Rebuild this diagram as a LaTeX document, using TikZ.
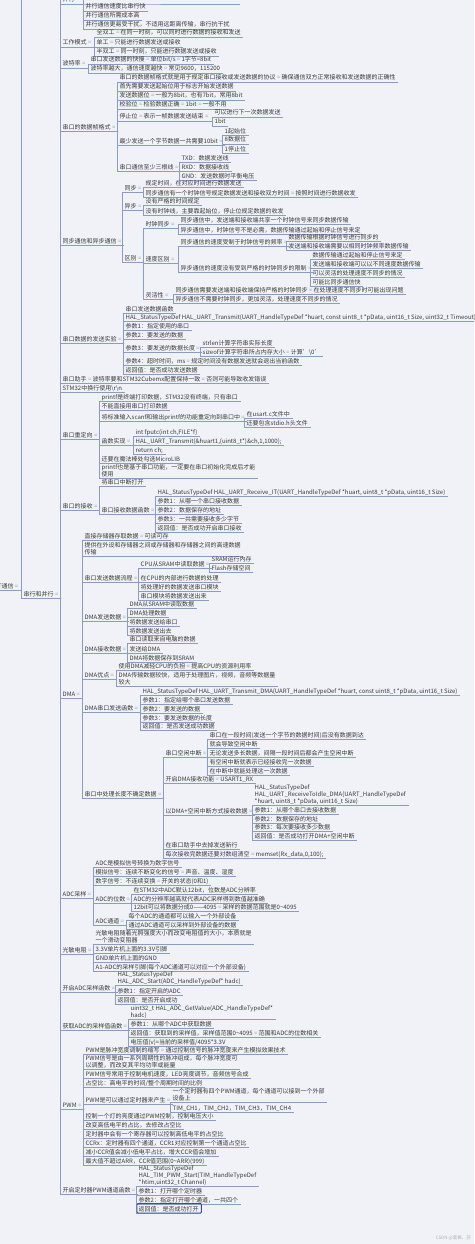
\documentclass[tikz,border=0pt]{standalone}
\usepackage{fontspec}
\setmainfont{Noto Sans CJK SC}
\definecolor{bgc}{HTML}{F0F2F7}
\definecolor{lnc}{HTML}{8A9CC0}
\definecolor{txc}{HTML}{3A3A3A}
\definecolor{eqc}{HTML}{8A9CC0}
\definecolor{boxc}{HTML}{3B4F8F}
\newcommand{\mmfont}{\fontsize{6}{7}\selectfont}
\newcommand{\mmeq}{{\color{eqc}=}}
\newcommand{\mmn}[4]{\node[mm] (#1) at (#2,#3) {#4}; \draw[ln] (#1.south west) -- (#1.south east);}
\newcommand{\mml}[2]{\foreach \mmc in {#2} {\draw[ln] (#1.south east) -| (\mmc.south west);}}
\newcommand{\tl}{\textasciitilde}
\begin{document}
\begin{tikzpicture}[x=1pt,y=-1pt,
  ln/.style={draw=lnc,line width=0.7pt},
  mm/.style={anchor=south west,inner xsep=2.5pt,inner ysep=0.8pt,text depth=1pt,align=left,font=\mmfont,text=txc}]
\fill[bgc] (0,0) rectangle (474,1244);
\useasboundingbox (0,0) rectangle (474,1244);
\clip (0,0) rectangle (474,1244);

% root
\node[mm,anchor=south east] (root) at (21,590) {UART通信 \mmeq};
\draw[ln] (root.south west) -- (root.south east);
\mmn{cb}{21}{598}{串行和并行 \mmeq}
\coordinate (rtop) at (21,-5);
\draw[ln] (root.south east) -| (rtop);
\mml{root}{cb}

% level 2
\mmn{bx}{60}{4}{并行 \mmeq}
\mmn{gz}{60}{47}{工作模式 \mmeq}
\mmn{bt}{60}{68}{波特率 \mmeq}
\mmn{zg}{60}{131}{串口的数据帧格式 \mmeq}
\mmn{tb}{60}{245}{同步通信和异步通信 \mmeq}
\mmn{fs}{60}{343}{串口数据的发送实验 \mmeq}
\mmn{zs}{60}{383}{串口助手 \mmeq{} 波特率要和STM32Cubemx配置保持一致 \mmeq{} 否则可能导致收发错误}
\mmn{hh}{60}{392}{STM32中换行使用\textbackslash r\textbackslash n}
\mmn{cx}{60}{439}{串口重定向 \mmeq}
\mmn{js}{60}{510}{串口的接收 \mmeq}
\mmn{dma}{60}{698}{DMA \mmeq}
\mmn{adc}{60}{898}{ADC采样 \mmeq}
\mmn{gm}{60}{954}{光敏电阻 \mmeq}
\mmn{ks}{60}{992}{开启ADC采样函数 \mmeq}
\mmn{hq}{60}{1030}{获取ADC的采样值函数 \mmeq}
\mmn{pwm}{60}{1109}{PWM \mmeq}
\mmn{ds}{60}{1194}{开启定时器PWM通道函数 \mmeq}
\coordinate (cbtop) at (60,-5);
\draw[ln] (cb.south east) -| (cbtop);
\mml{cb}{bx,gz,bt,zg,tb,fs,zs,hh,cx,js,dma,adc,gm,ks,hq,pwm,ds}

% 并行
\coordinate (bx0a) at (83,4);
\coordinate (bx0b) at (240,4);
\coordinate (bxtop) at (83,-5);
\draw[ln] (bx.south east) -- (bx0a) -- (bx0b);
\draw[ln] (bx0a) -- (bxtop);
\mmn{bx1}{83}{11}{并行通信速度比串行快}
\mmn{bx2}{83}{20}{并行通信所需成本高}
\mmn{bx3}{83}{29}{并行通信更易受干扰，不适用远距离传输，串行抗干扰}
\mml{bx}{bx1,bx2,bx3}

% 工作模式
\mmn{gz1}{94}{37}{全双工 \mmeq{} 在同一时刻，可以同时进行数据的接收和发送}
\mmn{gz2}{94}{47}{单工 \mmeq{} 只能进行数据发送或接收}
\mmn{gz3}{94}{56}{半双工 \mmeq{} 同一时刻，只能进行数据发送或接收}
\mml{gz}{gz1,gz2,gz3}

% 波特率
\mmn{bt1}{88}{64}{串口发送数据的快慢 \mmeq{} 单位bit/s \mmeq{} 1字节=8bit}
\mmn{bt2}{88}{73}{波特率越大，通信速度越快 \mmeq{} 常见9600，115200}
\mml{bt}{bt1,bt2}

% 数据帧格式
\mmn{zg1}{117}{82}{串口的数据帧格式就是用于规定串口接收或发送数据的协议 \mmeq{} 确保通信双方正常接收和发送数据的正确性}
\mmn{zg2}{117}{91}{首先需要发送起始位用于标志开始发送数据}
\mmn{zg3}{117}{100}{发送数据位 \mmeq{} 一般为8bit，也有7bit，常用8bit}
\mmn{zg4}{117}{109}{校验位 \mmeq{} 检验数据正确 \mmeq{} 1bit \mmeq{} 一般不用}
\mmn{zg5}{117}{121}{停止位 \mmeq{} 表示一帧数据发送结束 \mmeq}
\mmn{zg6}{117}{145}{最少发送一个字节数据一共需要10bit \mmeq}
\mmn{zg7}{117}{171}{串口通信至少三根线 \mmeq}
\mml{zg}{zg1,zg2,zg3,zg4,zg5,zg6,zg7}
\mmn{zg51}{212}{117}{可以进行下一次数据发送}
\mmn{zg52}{212}{126}{1bit}
\mml{zg5}{zg51,zg52}
\mmn{zg61}{222}{135}{1起始位}
\mmn{zg62}{222}{144}{8数据位}
\mmn{zg63}{222}{153}{1停止位}
\mml{zg6}{zg61,zg62,zg63}
\mmn{zg71}{179}{162}{TXD：数据发送线}
\mmn{zg72}{179}{171}{RXD：数据接收线}
\mmn{zg73}{179}{180}{GND：发送数据时平衡电压}
\mml{zg7}{zg71,zg72,zg73}

% 同步异步
\mmn{tb1}{122}{192}{同步 \mmeq}
\mmn{tb2}{122}{210}{异步 \mmeq}
\mmn{tb3}{122}{262}{区别 \mmeq}
\mml{tb}{tb1,tb2,tb3}
\mmn{tb11}{143}{187}{规定时间，在对应时间进行数据发送}
\mmn{tb12}{143}{197}{同步通信有一个时钟信号规定数据发送和接收双方时间 \mmeq{} 按照时间进行数据收发}
\mml{tb1}{tb11,tb12}
\mmn{tb21}{143}{205}{没有严格的时间规定}
\mmn{tb22}{143}{215}{没有时钟线，主要靠起始位，停止位规定数据的收发}
\mml{tb2}{tb21,tb22}
\mmn{tb31}{143}{228}{时钟同步 \mmeq}
\mmn{tb32}{143}{263}{速度区别 \mmeq}
\mmn{tb33}{143}{299}{灵活性 \mmeq}
\mml{tb3}{tb31,tb32,tb33}
\mmn{tb311}{178}{224}{同步通信中，发送端和接收端共享一个时钟信号来同步数据传输}
\mmn{tb312}{178}{234}{异步通信中，时钟信号不是必需，数据传输通过起始和停止信号来定}
\mml{tb31}{tb311,tb312}
\mmn{tb321}{178}{246}{同步通信的速度受制于时钟信号的频率 \mmeq}
\mmn{tb322}{178}{272}{异步通信的速度没有受到严格的时钟同步的限制 \mmeq}
\mml{tb32}{tb321,tb322}
\mmn{tb3211}{286}{241}{数据传输根据时钟信号进行同步的}
\mmn{tb3212}{286}{250}{发送端和接收端需要以相同时钟频率数据传输}
\mml{tb321}{tb3211,tb3212}
\mmn{tb3221}{310}{259}{数据传输通过起始和停止信号来定}
\mmn{tb3222}{310}{268}{发送端和接收端可以以不同速度数据传输}
\mmn{tb3223}{310}{277}{可以灵活的处理速度不同步的情况}
\mmn{tb3224}{310}{286}{可能比同步通信快}
\mml{tb322}{tb3221,tb3222,tb3223,tb3224}
\mmn{tb331}{173}{294}{同步通信需要发送端和接收端保持严格的时钟同步 \mmeq{} 在处理速度不同步时可能出现问题}
\mmn{tb332}{173}{303}{异步通信不需要时钟同步，更加灵活，处理速度不同步的情况}
\mml{tb33}{tb331,tb332}

% 发送实验
\mmn{fs1}{123}{313}{串口发送数据函数}
\mmn{fs2}{123}{321}{HAL\_StatusTypeDef HAL\_UART\_Transmit(UART\_HandleTypeDef *huart, const uint8\_t *pData, uint16\_t Size, uint32\_t Timeout)}
\mmn{fs3}{123}{330}{参数1：指定使用的串口}
\mmn{fs4}{123}{339}{参数2：要发送的数据}
\mmn{fs5}{123}{352}{参数3：要发送的数据长度 \mmeq}
\mmn{fs6}{123}{365}{参数4：超时时间，ms \mmeq{} 规定时间没有数据发送就会退出当前函数}
\mmn{fs7}{123}{374}{返回值：是否成功发送数据}
\mml{fs}{fs1,fs2,fs3,fs4,fs5,fs6,fs7}
\mmn{fs51}{200}{347}{strlen计算字符串实际长度}
\mmn{fs52}{200}{356}{sizeof计算字符串所占内存大小 \mmeq{} 计算'\textbackslash 0'}
\mml{fs5}{fs51,fs52}

% 重定向
\mmn{cx1}{99}{401}{printf是终端打印数据，STM32没有终端，只有串口}
\mmn{cx2}{99}{410}{不能直接用串口打印数据}
\mmn{cx3}{99}{421}{将标准输入scanf和输出printf的功能重定向到串口中 \mmeq}
\mmn{cx4}{99}{445}{函数实现 \mmeq}
\mmn{cx5}{99}{463}{还要在魔法棒处勾选MicroLIB}
\mmn{cx6}{99}{478}{printf也是基于串口功能，一定要在串口初始化完成后才能\\使用}
\mml{cx}{cx1,cx2,cx3,cx4,cx5,cx6}
\mmn{cx31}{244}{418}{在usart.c文件中}
\mmn{cx32}{244}{427}{还要包含stdio.h头文件}
\mml{cx3}{cx31,cx32}
\mmn{cx41}{133}{436}{int fputc(int ch,FILE*f)}
\mmn{cx42}{133}{445}{HAL\_UART\_Transmit(\&huart1,(uint8\_t*)\&ch,1,1000);}
\mmn{cx43}{133}{454}{return ch;}
\mml{cx4}{cx41,cx42,cx43}

% 接收
\mmn{js1}{99}{486}{将串口中断打开}
\mmn{js2}{99}{514}{串口接收数据函数 \mmeq}
\mml{js}{js1,js2}
\mmn{js21}{155}{496}{HAL\_StatusTypeDef HAL\_UART\_Receive\_IT(UART\_HandleTypeDef *huart, uint8\_t *pData, uint16\_t Size)}
\mmn{js22}{155}{505}{参数1：从哪一个串口接收数据}
\mmn{js23}{155}{514}{参数2：数据保存的地址}
\mmn{js24}{155}{523}{参数3：一共需要接收多少字节}
\mmn{js25}{155}{532}{返回值：是否成功开启串口接收}
\mml{js2}{js21,js22,js23,js24,js25}

% DMA
\mmn{d1}{82}{540}{直接存储器存取数据 \mmeq{} 可读可存}
\mmn{d2}{82}{556}{提供在外设和存储器之间或存储器和存储器之间的高速数据\\传输}
\mmn{d3}{82}{582}{串口发送数据流程 \mmeq}
\mmn{d4}{82}{621}{DMA发送数据 \mmeq}
\mmn{d5}{82}{653}{DMA接收数据 \mmeq}
\mmn{d6}{82}{679}{DMA优点 \mmeq}
\mmn{d7}{82}{712}{DMA串口发送函数 \mmeq}
\mmn{d8}{82}{798}{串口中处理长度不确定数据 \mmeq}
\mml{dma}{d1,d2,d3,d4,d5,d6,d7,d8}
\mmn{d31}{138}{568}{CPU从SRAM中读取数据 \mmeq}
\mmn{d32}{138}{582}{在CPU的内部进行数据的处理}
\mmn{d33}{138}{591}{将处理好的数据发送串口模块}
\mmn{d34}{138}{600}{串口模块将数据发送出来}
\mml{d3}{d31,d32,d33,d34}
\mmn{d311}{209}{563}{SRAM运行内存}
\mmn{d312}{209}{572}{Flash存储空间}
\mml{d31}{d311,d312}
\mmn{d41}{127}{608}{DMA从SRAM中读取数据}
\mmn{d42}{127}{617}{DMA处理数据}
\mmn{d43}{127}{626}{将数据发送给串口}
\mmn{d44}{127}{635}{将数据发送出去}
\mml{d4}{d41,d42,d43,d44}
\mmn{d51}{127}{643}{串口读取来自电脑的数据}
\mmn{d52}{127}{653}{发送给DMA}
\mmn{d53}{127}{662}{DMA将数据保存到SRAM}
\mml{d5}{d51,d52,d53}
\mmn{d61}{116}{670}{使用DMA减轻CPU的负担 \mmeq{} 提高CPU的资源利用率}
\mmn{d62}{116}{686}{DMA传输数据较快，适用于处理图片，视频，音频等数据量\\较大}
\mml{d6}{d61,d62}
\mmn{d71}{140}{695}{HAL\_StatusTypeDef HAL\_UART\_Transmit\_DMA(UART\_HandleTypeDef *huart, const uint8\_t *pData, uint16\_t Size)}
\mmn{d72}{140}{704}{参数1：指定给哪个串口发送数据}
\mmn{d73}{140}{713}{参数2：要发送的数据}
\mmn{d74}{140}{722}{参数3：要发送数据的长度}
\mmn{d75}{140}{730}{返回值：是否发送成功数据}
\mml{d7}{d71,d72,d73,d74,d75}
\mmn{d81}{163}{757}{串口空闲中断 \mmeq}
\mmn{d82}{163}{783}{开启DMA接收功能 \mmeq{} USART1\_RX}
\mmn{d83}{163}{815}{以DMA+空闲中断方式接收数据 \mmeq}
\mmn{d84}{163}{849}{在串口助手中去掉发送新行}
\mmn{d85}{163}{858}{每次接收完数据还要对数组清空 \mmeq{} memset(Rx\_data,0,100);}
\mml{d8}{d81,d82,d83,d84,d85}
\mmn{d811}{207}{739}{串口在一段时间(发送一个字节的数据时间)后没有数据到达}
\mmn{d812}{207}{748}{就会导致空闲中断}
\mmn{d813}{207}{757}{无论发送多长数据，间隔一段时间后都会产生空闲中断}
\mmn{d814}{207}{766}{有空闲中断就表示已经接收完一次数据}
\mmn{d815}{207}{775}{在中断中就能处理这一次数据}
\mml{d81}{d811,d812,d813,d814,d815}
\mmn{d831}{252}{805}{HAL\_StatusTypeDef\\HAL\_UART\_ReceiveToIdle\_DMA(UART\_HandleTypeDef\\{*}huart, uint8\_t *pData, uint16\_t Size)}
\mmn{d832}{252}{814}{参数1：从哪个串口去接收数据}
\mmn{d833}{252}{823}{参数2：数据保存的地址}
\mmn{d834}{252}{831}{参数3：每次要接收多少数据}
\mmn{d835}{252}{840}{返回值：是否成功打开DMA+空闲中断}
\mml{d83}{d831,d832,d833,d834,d835}

% ADC
\mmn{a1}{93}{867}{ADC是模拟信号转换为数字信号}
\mmn{a2}{93}{876}{模拟信号：连续不断变化的信号 \mmeq{} 声音、温度、湿度}
\mmn{a3}{93}{885}{数字信号：不连续变换 \mmeq{} 开关的状态(0和1)}
\mmn{a4}{93}{903}{ADC的位数 \mmeq}
\mmn{a5}{93}{925}{ADC通道 \mmeq}
\mml{adc}{a1,a2,a3,a4,a5}
\mmn{a41}{131}{894}{在STM32中ADC默认12bit，位数是ADC分辨率}
\mmn{a42}{131}{903}{ADC的分辨率越高就代表ADC采样得到数值越准确}
\mmn{a43}{131}{911}{12bit可以将数据分成0——4095 \mmeq{} 采样的数据范围就是0\tl 4095}
\mml{a4}{a41,a42,a43}
\mmn{a51}{126}{920}{每个ADC的通道都可以输入一个外部设备}
\mmn{a52}{126}{929}{通过ADC通道可以采样到外部设备的数据}
\mml{a5}{a51,a52}

% 光敏电阻
\mmn{g1}{93}{944}{光敏电阻随着光照强度大小而改变电阻值的大小，本质就是\\一个滑动变阻器}
\mmn{g2}{93}{953}{3.3V单片机上面的3.3V引脚}
\mmn{g3}{93}{962}{GND单片机上面的GND}
\mmn{g4}{93}{971}{A1-ADC的采样引脚(每个ADC通道可以对应一个外部设备)}
\mml{gm}{g1,g2,g3,g4}

% 开启ADC
\mmn{k1}{115}{985}{HAL\_StatusTypeDef\\HAL\_ADC\_Start(ADC\_HandleTypeDef* hadc)}
\mmn{k2}{115}{995}{参数1：指定开启的ADC}
\mmn{k3}{115}{1004}{返回值：是否开启成功}
\mml{ks}{k1,k2,k3}

% 获取ADC
\mmn{h1}{128}{1019}{uint32\_t HAL\_ADC\_GetValue(ADC\_HandleTypeDef*\\hadc)}
\mmn{h2}{128}{1028}{参数1：从哪个ADC中获取数据}
\mmn{h3}{128}{1037}{返回值：获取到的采样值，采样值范围0\tl 4095 \mmeq{} 范围和ADC的位数相关}
\mmn{h4}{128}{1046}{电压值(v)=当前的采样值/4095*3.3V}
\mml{hq}{h1,h2,h3,h4}

% PWM
\mmn{p1}{83}{1054}{PWM是脉冲宽度调制的缩写 \mmeq{} 通过控制信号的脉冲宽度来产生模拟效果技术}
\mmn{p2}{83}{1069}{PWM信号是由一系列周期性的脉冲组成，每个脉冲宽度可\\以调整，而改变其平均功率或能量}
\mmn{p3}{83}{1078}{PWM信号常用于控制电机速度，LED亮度调节，音频信号合成}
\mmn{p4}{83}{1087}{占空比：高电平的时间/整个周期时间的比例}
\mmn{p5}{83}{1104}{PWM是可以通过定时器来产生 \mmeq}
\mmn{p6}{83}{1120}{控制一个灯的亮度通过PWM控制，控制电压大小}
\mmn{p7}{83}{1129}{改变高低电平的占比，去修改占空比}
\mmn{p8}{83}{1138}{定时器中会有一个寄存器可以控制高低电平的占空比}
\mmn{p9}{83}{1147}{CCRx：定时器有四个通道，CCR1对应控制第一个通道占空比}
\mmn{p10}{83}{1156}{减小CCR值会减小低电平占比，增大CCR值会增加}
\mmn{p11}{83}{1165}{最大值不超过ARR，CCR值范围(0\tl ARR)(999)}
\mml{pwm}{p1,p2,p3,p4,p5,p6,p7,p8,p9,p10,p11}
\mmn{p51}{170}{1102}{一个定时器有四个PWM通道，每个通道可以接到一个外部\\设备上}
\mmn{p52}{170}{1112}{TIM\_CH1，TIM\_CH2，TIM\_CH3，TIM\_CH4}
\mml{p5}{p51,p52}

% 定时器PWM函数
\mmn{s1}{136}{1186}{HAL\_StatusTypeDef\\HAL\_TIM\_PWM\_Start(TIM\_HandleTypeDef\\{*}htim,uint32\_t Channel)}
\mmn{s2}{136}{1195}{参数1：打开哪个定时器}
\mmn{s3}{136}{1204}{参数2：指定打开哪个通道，一共四个}
\mmn{s4}{136}{1213}{返回值：是否成功打开}
\mml{ds}{s1,s2,s3,s4}
\draw[draw=boxc,line width=0.9pt,rounded corners=1pt] ([xshift=1pt]s4.south west) rectangle ([yshift=1.5pt]s4.north east);

% watermark
\node[anchor=east,inner sep=0pt,font=\fontsize{4.5}{5}\selectfont,text=black!30] (wm) at (471,1238) {CSDN @紫枫、苏};
\end{tikzpicture}
\end{document}
